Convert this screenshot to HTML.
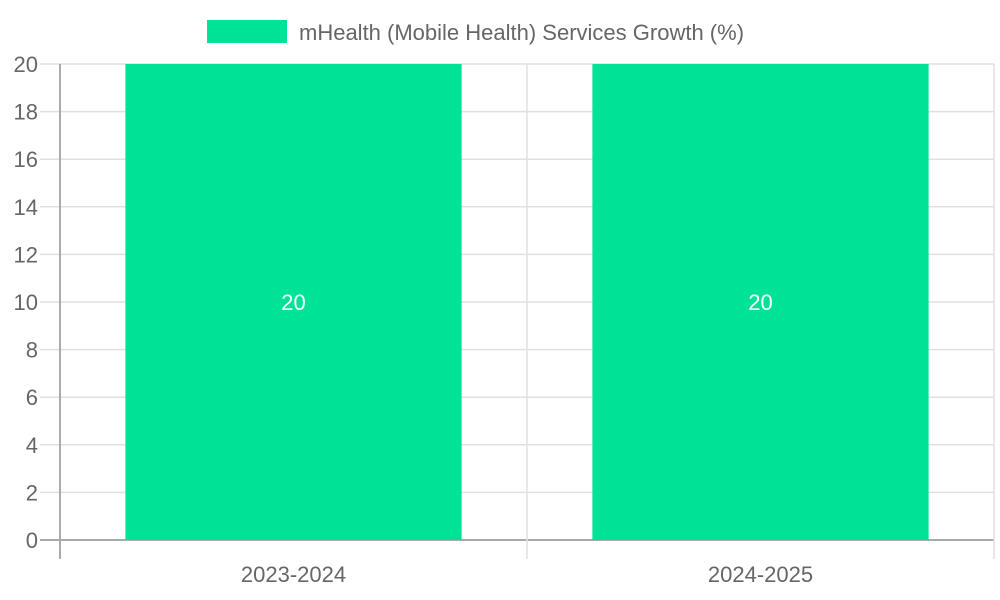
<!DOCTYPE html>
<html><head><meta charset="utf-8"><style>
html,body{margin:0;padding:0;background:#fff;}
svg{display:block;font-family:"Liberation Sans",sans-serif;}
</style></head><body>
<svg id="chart" width="1000" height="600">
<g>
<rect x="207" y="20" width="80" height="23" fill="#00e396"/>
<text x="299" y="40" font-size="22" fill="#666">mHealth (Mobile Health) Services Growth (%)</text>
</g>
<g id="grid"></g>
<g id="bars"></g>
<g id="axes"></g>
</svg>
<script>
const categories = ["2023-2024","2024-2025"];
const values = [20,20];
const yTicks = [0,2,4,6,8,10,12,14,16,18,20];
const NS="http://www.w3.org/2000/svg";
const L=60,R=994,T=64,B=540,yMax=20;
const y=v=>B-(v/yMax)*(B-T);
const cw=(R-L)/categories.length;
const x=i=>L+cw*i;
function mk(tag,attrs,parent,text){const e=document.createElementNS(NS,tag);for(const k in attrs)e.setAttribute(k,attrs[k]);if(text!==undefined)e.textContent=text;parent.appendChild(e);return e;}
const grid=document.getElementById('grid'),bars=document.getElementById('bars'),axes=document.getElementById('axes');
yTicks.forEach(t=>{
  const g=mk('line',{x1:40,x2:R,y1:y(t),y2:y(t),stroke:t===0?'#aaa':'#e0e0e0','stroke-width':t===0?2:1.5},grid);
  
  
  const lb=mk('text',{x:38,y:y(t)+8,'text-anchor':'end','font-size':22,fill:'#666'},axes,String(t));
  
  
});
for(let i=0;i<=categories.length;i++){
  const g=mk('line',{x1:x(i),x2:x(i),y1:T,y2:559,stroke:i===0?'#aaa':'#e0e0e0','stroke-width':i===0?2:1.5},grid);
  
  
}
categories.forEach((c,i)=>{
  const bw=cw*0.72, bx=x(i)+(cw-bw)/2;
  const r=mk('rect',{x:bx,y:y(values[i]),width:bw,height:B-y(values[i]),fill:'#00e396'},bars);
  
  
  const v=mk('text',{x:x(i)+cw/2,y:(y(values[i])+B)/2+8,'text-anchor':'middle','font-size':22,fill:'#fff'},bars,String(values[i]));
  
  
  const lb=mk('text',{x:x(i)+cw/2,y:582,'text-anchor':'middle','font-size':22,fill:'#666'},axes,c);
  
  
});
</script>
</body></html>
